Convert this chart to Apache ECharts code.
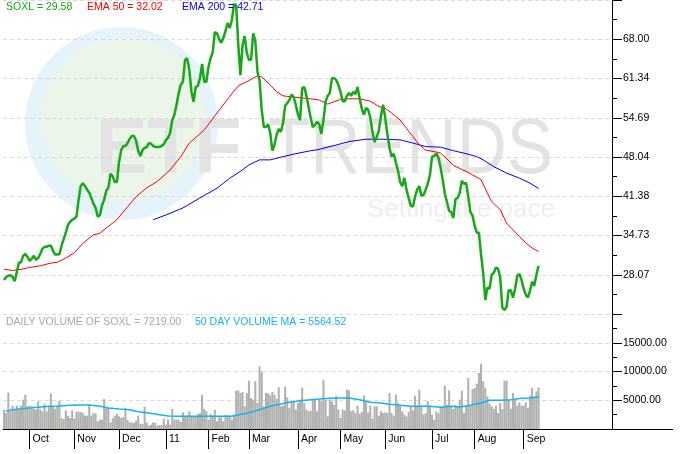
<!DOCTYPE html>
<html><head><meta charset="utf-8">
<script src="https://cdn.jsdelivr.net/npm/echarts@6/dist/echarts.min.js"></script>
<style>html,body{margin:0;padding:0;background:#fff}#c{width:684px;height:454px}</style>
</head><body><div id="c"></div>
<script>
// ---- axis categories (trading days) ----
const months = ['Oct','Nov','Dec','11','Feb','Mar','Apr','May','Jun','Jul','Aug','Sep'];
const monthDays = [21,21,22,20,19,23,20,21,22,20,23,21]; // trading days per month
const leadDays = 12;     // Sep 2010 trading days shown before October
const totalSlots = 286;  // trading-day slots across the plot width

// ---- price axis ticks ----
const priceMin = 21.4212, priceStep = 6.6535;
const priceTickLabels = ['','28.07','34.73','41.38','48.04','54.69','61.34','68.00',''];
const volTickLabels = ['','5000.00','10000.00','15000.00',''];

// ---- SOXL daily close ----
const price = [
27.2,27.7,27.9,28.0,27.7,26.97,28.6,30.1,30.2,31.3,
31.6,31.1,30.4,30.8,31.3,30.6,30.9,31.6,32.5,32.8,
32.8,33.0,33.0,32.1,31.5,31.5,31.6,33.0,34.1,35.2,
36.5,37.05,37.4,37.6,37.9,40.8,43.1,43.6,43.1,42.5,
41.96,41.1,40.1,39.4,37.9,38.2,39.8,40.8,42.3,42.8,
45.2,44.8,43.8,43.8,47.2,49.2,49.9,49.9,50.4,51.1,
51.6,51.6,50.8,49.1,48.2,49.2,49.6,49.7,50.4,50.3,
49.9,49.75,49.75,49.75,49.9,50.2,50.9,51.3,52.1,54.3,
55.2,56.9,58.9,60.3,60.8,64.5,64.8,62.8,59.1,57.4,
59.9,60.1,61.4,63.8,60.8,60.8,63.3,64.8,65.8,69.2,
69.0,68.0,67.4,68.2,69.4,70.75,69.9,71.3,73.97,73.8,
67.0,61.9,67.0,68.5,65.7,64.5,64.5,69.0,67.7,62.5,
61.0,56.0,53.1,53.1,53.6,52.1,49.1,50.1,51.8,52.8,
52.3,53.8,56.7,57.2,57.7,58.6,58.2,56.9,55.3,54.3,
59.7,59.9,58.4,56.5,54.7,53.1,53.5,54.0,53.6,51.95,
54.3,57.5,58.4,58.9,61.4,61.4,61.1,60.25,59.1,57.5,
57.5,58.4,58.9,58.4,59.1,58.7,59.9,57.9,56.2,55.2,
56.35,56.0,54.7,52.3,50.6,51.4,52.5,55.0,56.9,54.7,
51.95,49.6,48.1,48.6,47.1,45.7,43.8,43.1,44.5,42.5,
41.1,39.8,39.6,41.3,42.5,43.1,41.45,41.6,42.5,43.5,
45.0,48.1,48.2,48.6,47.9,46.2,44.2,41.8,40.4,38.9,
38.7,37.7,40.9,41.1,41.96,44.0,43.5,43.65,41.3,38.7,
38.1,36.4,35.2,35.2,31.5,28.4,23.8,25.9,25.7,28.07,
28.4,29.3,29.1,27.6,22.5,22.1,22.65,25.5,25.4,24.2,
25.7,27.9,28.2,27.2,25.7,24.7,24.2,25.4,26.9,26.2,
28.07,29.58];

// ---- EMA 50 [day, value] ----
const ema50 = [[0,29.0],[4,28.8],[8,29.0],[12,29.3],[17,29.6],[22,30.05],[25,30.2],[29,30.9],[33,31.8],[37,33.4],
[42,34.85],[45,35.1],[48,36.0],[53,37.4],[58,39.6],[62,41.3],[67,42.8],[72,43.9],[78,45.85],[83,48.1],
[87,50.4],[94,52.6],[100,55.5],[106,58.3],[110,60.1],[114,60.8],[119,61.8],[121,61.6],[125,60.25],[128,59.1],
[131,58.4],[136,58.2],[141,58.0],[144,57.9],[148,57.7],[152,57.0],[155,57.4],[158,57.8],[162,57.9],[167,57.9],
[172,57.5],[176,56.6],[179,56.3],[182,55.5],[186,54.3],[189,52.9],[192,51.5],[195,50.1],[198,49.2],[202,48.95],
[205,48.7],[208,47.7],[211,46.6],[214,46.1],[217,45.6],[220,45.0],[224,44.2],[227,41.9],[229,40.5],[233,39.1],
[236,36.8],[239,35.7],[242,34.6],[245,33.5],[248,32.6],[251,32.02]];

// ---- EMA 200 [day, value] ----
const ema200 = [[70,37.4],[76,38.2],[84,39.4],[92,41.1],[100,42.75],[106,44.45],[111,45.6],[115,46.7],[120,47.55],[125,47.55],
[131,48.1],[137,48.6],[144,49.1],[147,49.25],[155,49.97],[162,50.65],[170,51.05],[178,51.05],[186,50.94],[192,50.4],
[198,49.8],[205,49.7],[211,49.1],[217,48.6],[222,48.1],[225,47.55],[230,46.4],[236,45.3],[242,44.45],[247,43.6],[251,42.71]];

// ---- daily volume ----
const volume = [
3364,2784,6322,3074,4060,3364,4060,3364,4060,5104,
5974,3944,4060,3944,3480,3364,4814,3364,3074,4408,
3074,3944,6148,3944,3480,4060,4872,1914,1740,3248,
2320,1914,3248,1798,3016,3016,2958,2784,2320,2320,
4234,2320,2784,2668,1334,1624,1624,5220,3828,3654,
1160,1914,2320,2668,2204,1914,2088,3654,1624,1160,
1160,1044,1450,2320,928,870,3886,1160,580,754,
1160,1044,580,696,696,1798,754,1624,754,3480,
1624,1624,1624,1218,2900,2204,2320,3074,2088,2088,
2204,2610,2784,5974,3480,3074,1624,2610,2088,3364,
1334,2030,2030,1334,2494,2320,2320,1624,2494,6670,
6670,6264,6438,3944,6264,8410,5394,5104,8294,4524,
10904,9976,3944,6264,6264,5858,6438,5974,5278,7250,
3944,4060,7366,5510,3654,4814,4814,3364,4524,5104,
7192,4524,3364,3074,3190,5104,5104,3074,5104,4814,
8584,5104,2204,5104,4814,4234,5800,3364,1914,3364,
3248,6844,6728,3074,3248,2784,4060,2668,2958,5858,
4814,2900,4060,1798,3944,3944,2320,3074,2784,2900,
2784,6264,2784,2320,5974,4524,4060,3074,2494,2204,
2958,3944,3248,5800,3944,6844,3944,2494,2784,4872,
3944,2494,1624,3074,2784,3944,3944,7540,4234,6728,
3944,3480,4176,3944,5104,6670,2784,3944,8874,4118,
6960,7134,7888,9744,11368,8294,7134,5684,4408,3944,
3480,4060,2784,4524,3480,8410,8410,5104,3480,6264,
5104,4060,4640,4060,4060,4640,3654,5800,7134,5684,
6554,7219];

// ---- 50 day volume MA [day, value] ----
const volMA = [[1,3074],[4,3364],[7,3480],[12,3654],[16,3770],[21,3944],[26,4000],[31,4118],[35,4176],[40,4176],
[45,3944],[49,3654],[54,3480],[59,3364],[63,3016],[68,2784],[73,2494],[77,2262],[82,2204],[92,2204],
[101,2204],[107,2204],[112,2610],[117,3016],[121,3480],[125,3944],[130,4350],[134,4640],[139,4930],[144,5104],
[148,5220],[153,5336],[158,5394],[162,5394],[167,5104],[172,4640],[177,4524],[181,4292],[186,4118],[191,3944],
[195,3944],[200,3944],[205,3770],[210,3944],[214,3828],[219,4118],[224,4524],[228,4988],[233,4988],[238,5104],
[243,5336],[247,5394],[251,5564.52]];

// ---- build categories ----
const categories = [];
const labelAt = {};
for (let i = 0; i < leadDays; i++) categories.push('s' + i);
months.forEach((m, k) => {
  for (let d = 0; d < monthDays[k]; d++) {
    if (d === 0) labelAt[categories.length] = m;
    categories.push(m + '-' + k + '-' + d);
  }
});
while (categories.length < totalSlots) categories.push('p' + categories.length);
categories.length = totalSlots;

const FF = '"Liberation Sans", Arial, sans-serif';
const FS = 10.5;
const last = a => { const v = a[a.length - 1]; return Array.isArray(v) ? v[1] : v; };
const gridLine = { show: true, lineStyle: { color: '#d9d9d9', type: [4, 3], width: 1 } };

const chart = echarts.init(document.getElementById('c'), null, { renderer: 'canvas' });
chart.setOption({
  animation: false,
  backgroundColor: '#fff',
  grid: [
    { left: 3, right: 72, top: 0, height: 314 },
    { left: 3, right: 72, top: 314, height: 115 }
  ],
  xAxis: [
    { type: 'category', gridIndex: 0, data: categories, boundaryGap: true, show: false },
    { type: 'category', gridIndex: 1, data: categories, boundaryGap: true,
      axisLine: { show: true, lineStyle: { color: '#000', width: 1 } },
      axisTick: { show: true, alignWithLabel: true, length: 20, lineStyle: { color: '#000' },
        interval: (i) => labelAt[i] !== undefined },
      axisLabel: { show: true, interval: (i) => labelAt[i] !== undefined,
        formatter: (v, i) => labelAt[i] || '', align: 'left', padding: [0, 0, 0, 3], margin: 5,
        color: '#000', fontFamily: FF, fontSize: FS },
      splitLine: { show: false } }
  ],
  yAxis: [
    { type: 'value', gridIndex: 0, position: 'right', min: priceMin, max: priceMin + 8 * priceStep, interval: priceStep,
      axisLine: { show: true, lineStyle: { color: '#000', width: 1 } },
      axisTick: { show: true, length: 10, lineStyle: { color: '#000' } },
      minorTick: { show: true, splitNumber: 2, length: 5, lineStyle: { color: '#000' } },
      axisLabel: { margin: 11, color: '#000', fontFamily: FF, fontSize: FS,
        formatter: v => priceTickLabels[Math.round((v - priceMin) / priceStep)] || '' },
      splitLine: gridLine },
    { type: 'value', gridIndex: 1, position: 'right', min: 0, max: 20000, interval: 5000,
      axisLine: { show: true, lineStyle: { color: '#000', width: 1 } },
      axisTick: { show: true, length: 10, lineStyle: { color: '#000' } },
      minorTick: { show: true, splitNumber: 2, length: 5, lineStyle: { color: '#000' } },
      axisLabel: { margin: 11, color: '#000', fontFamily: FF, fontSize: FS,
        formatter: v => volTickLabels[Math.round(v / 5000)] || '' },
      splitLine: gridLine }
  ],
  series: [
    { name: 'Volume', type: 'bar', xAxisIndex: 1, yAxisIndex: 1, data: volume,
      barCategoryGap: '4%', itemStyle: { color: '#b0b1af' }, z: 2, silent: true },
    { name: 'Vol MA', type: 'line', xAxisIndex: 1, yAxisIndex: 1, data: volMA, showSymbol: false,
      lineStyle: { color: '#12b4f2', width: 1.5 }, z: 3, silent: true },
    { name: 'EMA 200', type: 'line', xAxisIndex: 0, yAxisIndex: 0, data: ema200, showSymbol: false,
      lineStyle: { color: '#0000ff', width: 1 }, z: 3, silent: true },
    { name: 'EMA 50', type: 'line', xAxisIndex: 0, yAxisIndex: 0, data: ema50, showSymbol: false,
      lineStyle: { color: '#ff0000', width: 1 }, z: 4, silent: true },
    { name: 'SOXL', type: 'line', xAxisIndex: 0, yAxisIndex: 0, data: price, showSymbol: false,
      lineStyle: { color: '#16a816', width: 2.5 }, z: 5, silent: true }
  ],
  graphic: [
    { type: 'circle', silent: true, z: -10, shape: { cx: 121.5, cy: 123.5, r: 96.5 }, style: { fill: '#e5f3fb' } },
    { type: 'circle', silent: true, z: -9, shape: { cx: 123.5, cy: 119, r: 82 }, style: { fill: '#ebf5e9' } },
    { type: 'text', silent: true, z: -8, x: 96, y: 152,
      style: { text: 'ETF', font: 'bold 77px ' + FF, fill: '#e3e3e3', textVerticalAlign: 'middle' } },
    { type: 'text', silent: true, z: -8, x: 268, y: 152, scaleX: 0.9,
      style: { text: 'TRENDS', font: '77px ' + FF, fill: '#e3e3e3', textVerticalAlign: 'middle' } },
    { type: 'text', silent: true, z: -8, x: 367, y: 210,
      style: { text: 'Setting the pace', font: '26px ' + FF, fill: '#eeeeee', textVerticalAlign: 'middle' } },
    { type: 'text', silent: true, z: 20, x: 6, y: 7,
      style: { text: 'SOXL = ' + last(price).toFixed(2), font: FS + 'px ' + FF, fill: '#16a816', textVerticalAlign: 'middle' } },
    { type: 'text', silent: true, z: 20, x: 87, y: 7,
      style: { text: 'EMA 50 = ' + last(ema50).toFixed(2), font: FS + 'px ' + FF, fill: '#ff0000', textVerticalAlign: 'middle' } },
    { type: 'text', silent: true, z: 20, x: 182, y: 7,
      style: { text: 'EMA 200 = ' + last(ema200).toFixed(2), font: FS + 'px ' + FF, fill: '#0000ff', textVerticalAlign: 'middle' } },
    { type: 'text', silent: true, z: 20, x: 6, y: 322,
      style: { text: 'DAILY VOLUME OF SOXL = ' + last(volume).toFixed(2), font: FS + 'px ' + FF, fill: '#a8a8a8', textVerticalAlign: 'middle' } },
    { type: 'text', silent: true, z: 20, x: 195, y: 322,
      style: { text: '50 DAY VOLUME MA = ' + last(volMA).toFixed(2), font: FS + 'px ' + FF, fill: '#12b4f2', textVerticalAlign: 'middle' } },
    { type: 'line', silent: true, z: 20, shape: { x1: 612, y1: 429.5, x2: 673, y2: 429.5 }, style: { stroke: '#000', lineWidth: 1 } }
  ]
});
</script></body></html>
